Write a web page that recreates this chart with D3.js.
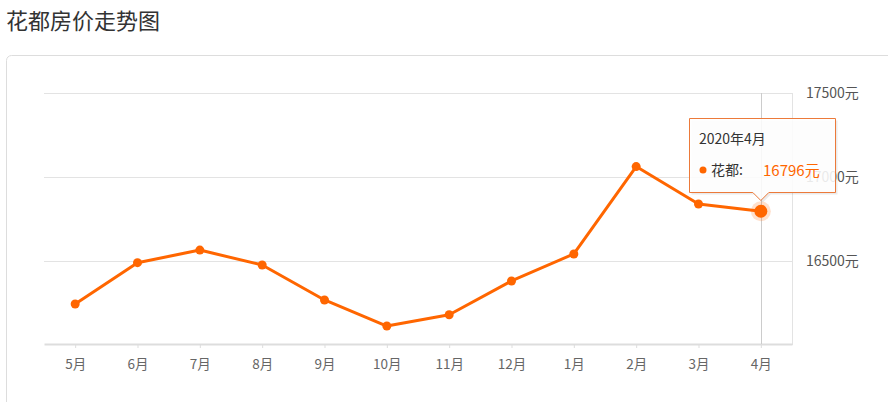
<!DOCTYPE html>
<html lang="zh">
<head>
<meta charset="UTF-8">
<title>花都房价走势图</title>
<style>
  body { margin: 0; background: #fff; font-family: "Noto Sans CJK SC", "Noto Sans", sans-serif; }
  svg { display: block; }
</style>
</head>
<body>
<svg class="chart"></svg>
<script src="https://cdnjs.cloudflare.com/ajax/libs/d3/7.8.5/d3.min.js"></script>
<script>
const months = ['5月','6月','7月','8月','9月','10月','11月','12月','1月','2月','3月','4月'];
const prices = [16244, 16490, 16565, 16476, 16268, 16113, 16180, 16381, 16542, 17062, 16839, 16796];
const yTicks = [16500, 17000, 17500];
const seriesName = '花都';
const hoverLabel = '2020年4月';

const width = 888, height = 402;
const svg = d3.select('.chart').attr('width', width).attr('height', height);

// title + card
svg.append('text').attr('x', 6).attr('y', 29)
   .attr('font-size', 22).attr('fill', '#333').text('花都房价走势图');
svg.append('rect').attr('x', 6.5).attr('y', 55.5).attr('width', 900).attr('height', 400)
   .attr('rx', 5).attr('fill', '#fff').attr('stroke', '#ddd');

const plotL = 44, plotR = 792, plotT = 93, plotB = 345;

const x = d3.scalePoint().domain(months).range([plotL, plotR]).padding(0.5);
const y = d3.scaleLinear().domain([16000, 17500]).range([plotB, plotT]);

// grid
const g = svg.append('g');
g.selectAll('.grid').data(yTicks).enter().append('line')
  .attr('x1', plotL).attr('x2', plotR)
  .attr('y1', d => Math.round(y(d)) + 0.5).attr('y2', d => Math.round(y(d)) + 0.5)
  .attr('stroke', '#e3e3e3');
g.append('line').attr('x1', plotR + 0.5).attr('x2', plotR + 0.5)
  .attr('y1', plotT).attr('y2', plotB).attr('stroke', '#e3e3e3');

// y labels on the right
g.selectAll('.ylab').data(yTicks).enter().append('text')
  .attr('x', 806).attr('y', d => y(d) + 5)
  .attr('font-size', 14).attr('fill', '#555')
  .text(d => d + '元');

// x axis
const xAxis = d3.axisBottom(x).tickSize(4).tickSizeOuter(0).tickPadding(11);
const ax = svg.append('g').attr('transform', `translate(0,${plotB - 1})`).call(xAxis);
ax.select('.domain').attr('stroke', '#ddd').attr('stroke-width', 2);
ax.selectAll('.tick line').attr('stroke', '#ddd');
ax.selectAll('.tick text').attr('font-size', 13.5).attr('fill', '#666')
  .attr('font-family', '"Noto Sans CJK SC", sans-serif');

// hover line
const last = months.length - 1;
svg.append('line').attr('x1', Math.round(x(months[last])) + 0.5).attr('x2', Math.round(x(months[last])) + 0.5)
   .attr('y1', plotT).attr('y2', plotB - 1).attr('stroke', '#ccc');

// series
const line = d3.line().x((d, i) => x(months[i])).y(d => y(d));
svg.append('path').datum(prices).attr('d', line)
   .attr('fill', 'none').attr('stroke', '#f60').attr('stroke-width', 3)
   .attr('stroke-linejoin', 'round');
svg.selectAll('.pt').data(prices).enter().append('circle')
   .attr('cx', (d, i) => x(months[i])).attr('cy', d => y(d))
   .attr('r', 4.5).attr('fill', '#f60');

// highlighted point
const hx = x(months[last]), hy = y(prices[last]);
svg.append('circle').attr('cx', hx).attr('cy', hy).attr('r', 10).attr('fill', '#f60').attr('opacity', 0.2);
svg.append('circle').attr('cx', hx).attr('cy', hy).attr('r', 6.5).attr('fill', '#f60');

// tooltip
const tx = 689.5, ty = 118.5, tw = 146, th = 74;
const tip = svg.append('g');
const tipPath = `M${tx},${ty} h${tw} v${th} H${hx + 8} l-8,8 l-8,-8 H${tx} Z`;
tip.append('path').attr('d', tipPath).attr('transform', 'translate(2,2)')
   .attr('fill', 'rgba(0,0,0,0.08)');
tip.append('path').attr('d', tipPath)
   .attr('fill', 'rgba(255,255,255,0.88)').attr('stroke', '#ec7a3a');
tip.append('text').attr('x', 699).attr('y', 144).attr('font-size', 14).attr('fill', '#333').text(hoverLabel);
tip.append('circle').attr('cx', 703).attr('cy', 170).attr('r', 3.5).attr('fill', '#f60');
tip.append('text').attr('x', 711).attr('y', 175).attr('font-size', 14).attr('fill', '#333').text(seriesName + ':');
tip.append('text').attr('x', 763).attr('y', 175.5).attr('font-size', 15).attr('fill', '#f60').text(prices[last] + '元');
</script>
</body>
</html>
